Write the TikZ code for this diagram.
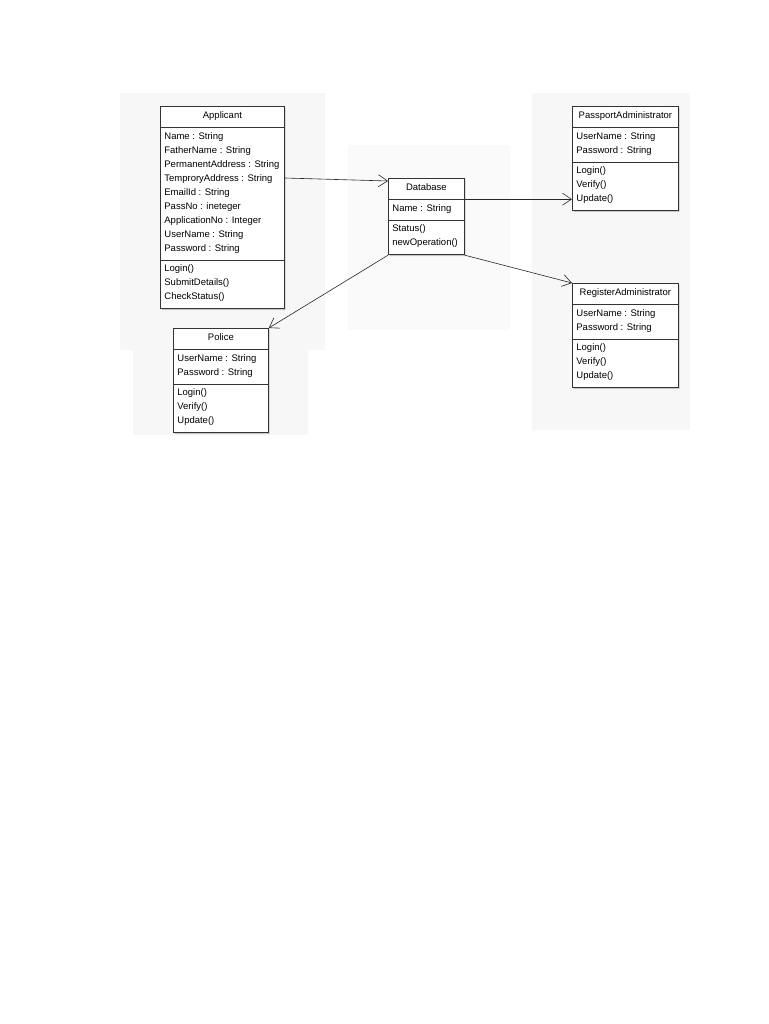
\documentclass[tikz,border=0pt]{standalone}
\usepackage{fontspec}
\setmainfont{Liberation Sans}
\usetikzlibrary{shapes.multipart, arrows.meta, shadows}

\newcommand{\rowstrut}{\rule[-5.5pt]{0pt}{14pt}}
\newcommand{\attr}[2]{\rowstrut #1 : #2}
\newcommand{\op}[1]{\rowstrut #1()}

\begin{document}
\begin{tikzpicture}[x=1pt, y=-1pt, >={Straight Barb[length=9pt,width=12pt]},
    umlclass/.style={draw=black!80, line width=0.8pt, fill=white, rectangle split, rectangle split parts=3,
        rectangle split part align={center,left,left}, align=left, anchor=north west,
        inner xsep=4pt, inner ysep=3pt, font=\fontsize{9.5}{14}\selectfont,
        drop shadow={shadow xshift=1.2pt, shadow yshift=-1.2pt, fill=black!40}},
    assoc/.style={->, line width=0.6pt, draw=black!85}]

            \useasboundingbox (0,0) rectangle (768,1024);

            % pale patches behind the classes
            \fill[black!3] (120,93) rectangle (325,350);
            \fill[black!3] (133,350) rectangle (308,435);
            \fill[black!2] (348,145) rectangle (510,330);
            \fill[black!3] (532,93) rectangle (690,430);

            \node[umlclass, minimum width=124pt] (applicant) at (160,106) {\rowstrut Applicant
                \nodepart{two} \attr{Name}{String}\\ \attr{FatherName}{String}\\ \attr{PermanentAddress}{String}\\
                \attr{TemproryAddress}{String}\\ \attr{EmailId}{String}\\ \attr{PassNo}{ineteger}\\
                \attr{ApplicationNo}{Integer}\\ \attr{UserName}{String}\\ \attr{Password}{String}
                \nodepart{three} \op{Login}\\ \op{SubmitDetails}\\ \op{CheckStatus}};

            \node[umlclass, minimum width=76pt] (database) at (388,178) {\rowstrut Database
                \nodepart{two} \attr{Name}{String}
                \nodepart{three} \op{Status}\\ \op{newOperation}};

            \node[umlclass, minimum width=95pt] (police) at (173,328) {\rowstrut Police
                \nodepart{two} \attr{UserName}{String}\\ \attr{Password}{String}
                \nodepart{three} \op{Login}\\ \op{Verify}\\ \op{Update}};

            \node[umlclass, minimum width=106pt] (passport-admin) at (572,106) {\rowstrut PassportAdministrator
                \nodepart{two} \attr{UserName}{String}\\ \attr{Password}{String}
                \nodepart{three} \op{Login}\\ \op{Verify}\\ \op{Update}};

            \node[umlclass, minimum width=106pt] (register-admin) at (572,283) {\rowstrut RegisterAdministrator
                \nodepart{two} \attr{UserName}{String}\\ \attr{Password}{String}
                \nodepart{three} \op{Login}\\ \op{Verify}\\ \op{Update}};

            % Connections: database in the middle
            \draw[assoc] ([yshift=-72pt]applicant.north east) -- ([yshift=-3pt]database.north west);
            \draw[assoc] (database.one split east) -- (database.one split east -| passport-admin.west);
            \draw[assoc] (database.south east) -- (register-admin.north west);
            \draw[assoc] (database.south west) -- (police.north east);

        \end{tikzpicture}
\end{document}
